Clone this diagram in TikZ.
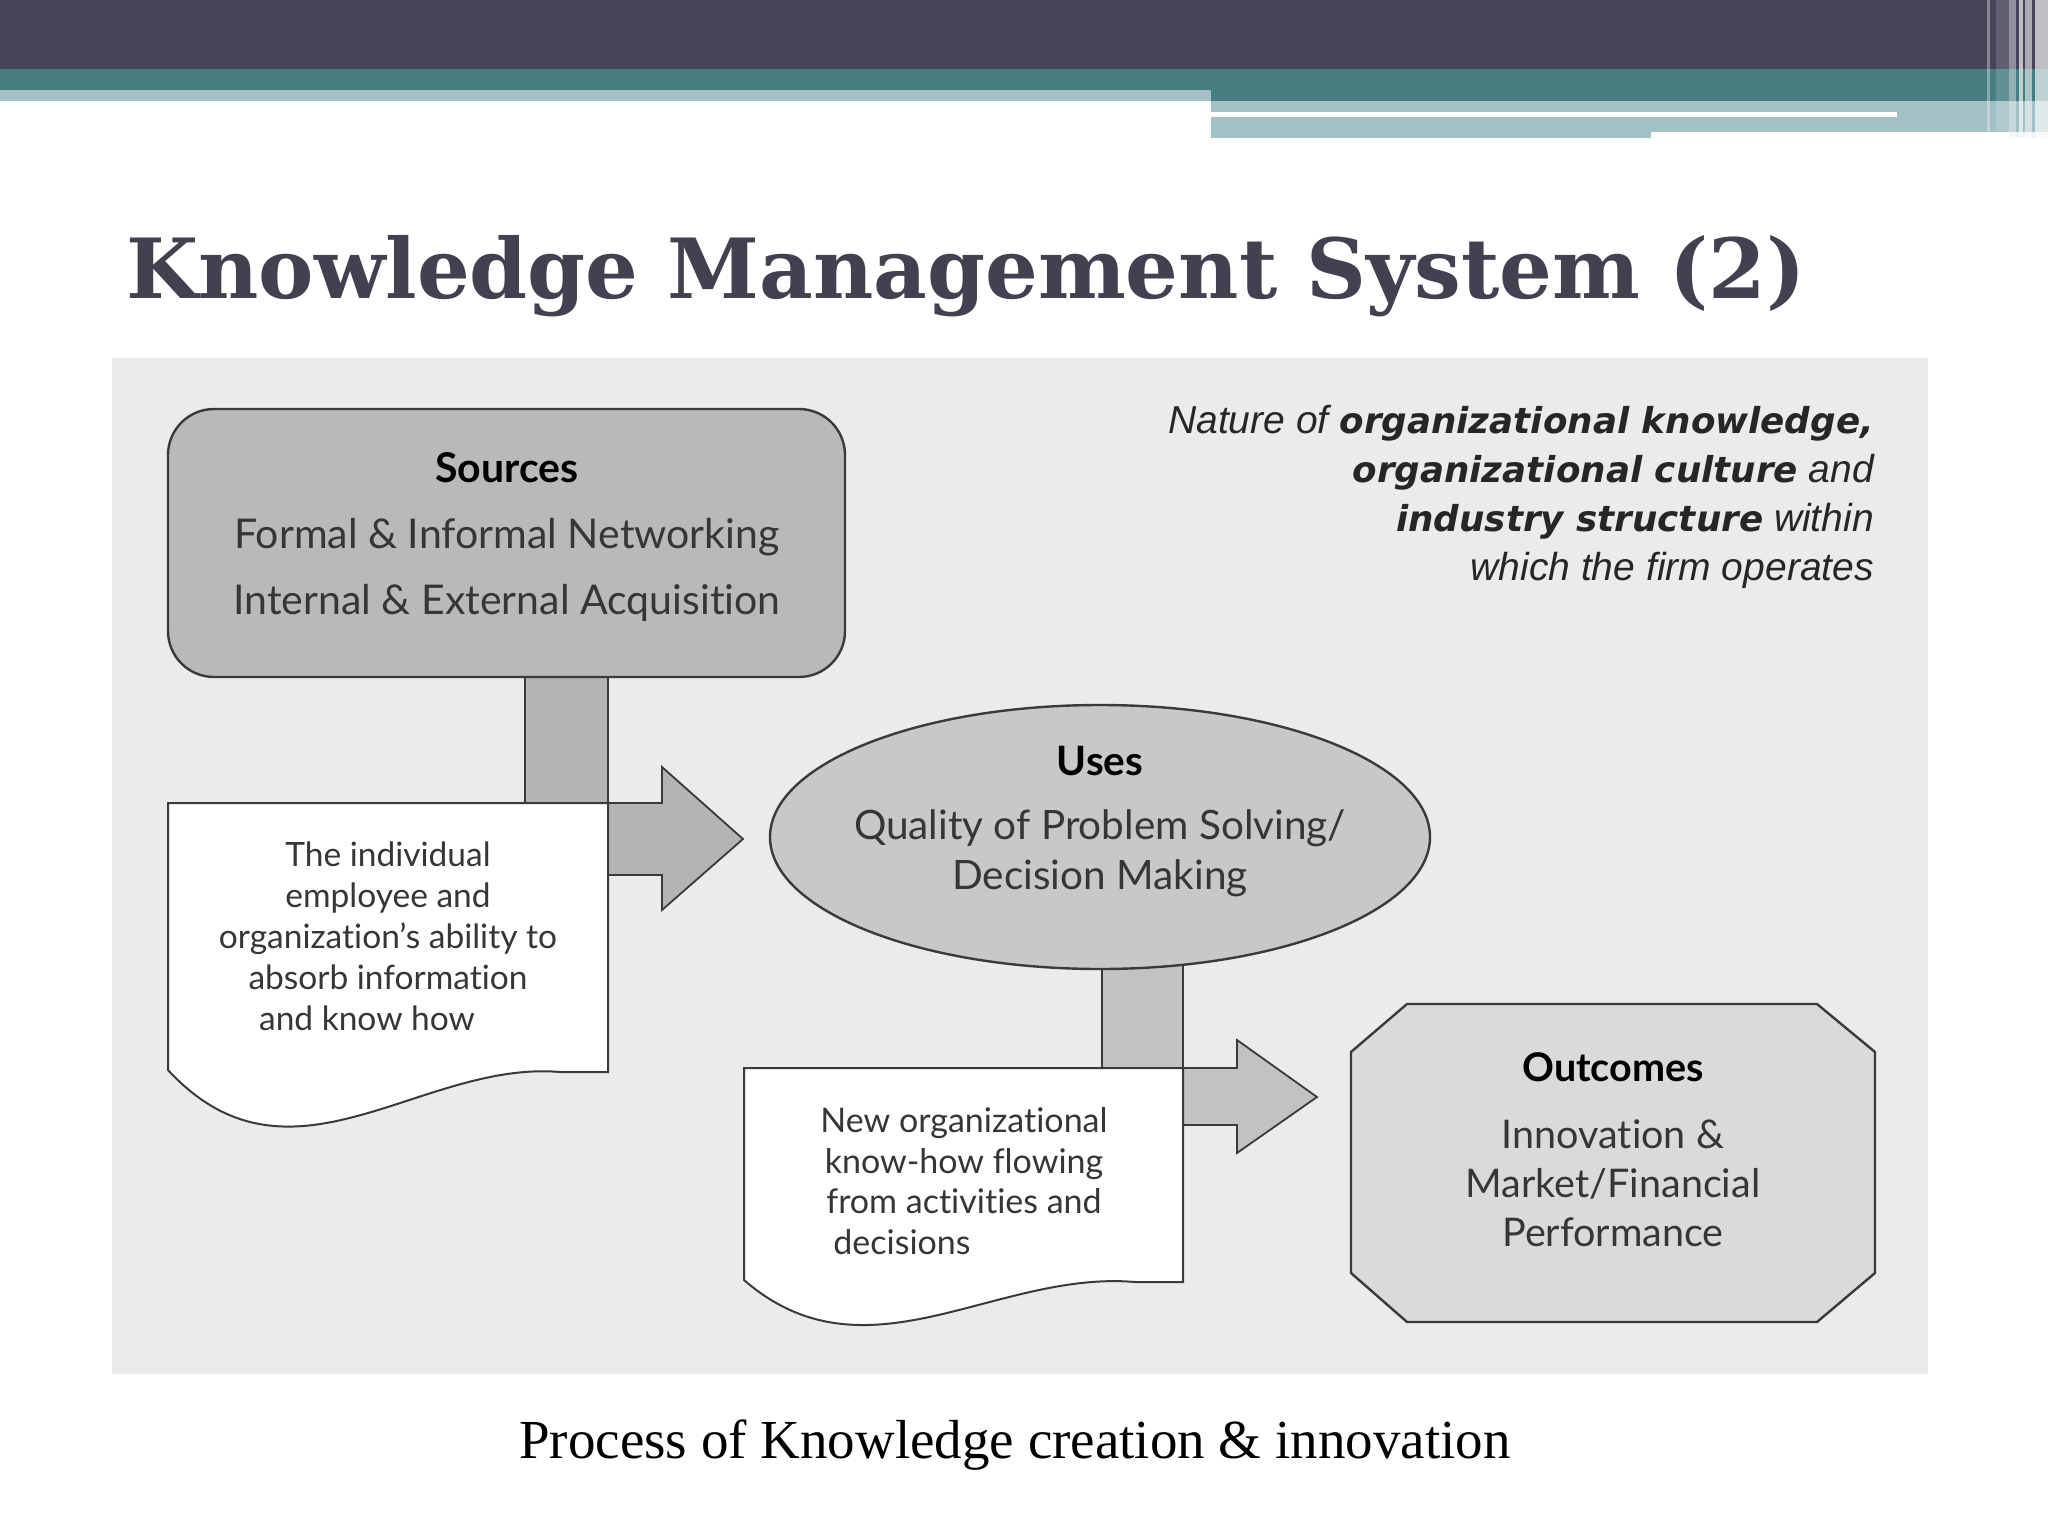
\documentclass[tikz,border=0pt]{standalone}
\usepackage{fontspec}
\setmainfont{Liberation Serif}
\newfontfamily\gill[Ligatures=NoCommon]{Lato}
\newfontfamily\titlefont{DejaVu Serif}
\newfontfamily\natreg{Liberation Sans}
\newfontfamily\natbold{DejaVu Sans}
\usetikzlibrary{shapes.geometric}
\definecolor{bardark}{HTML}{464559}
\definecolor{barteal}{HTML}{467E82}
\definecolor{barlight}{HTML}{A3C0C4}
\definecolor{titlecol}{HTML}{41414F}
\definecolor{panel}{HTML}{EBEBED}
\definecolor{srcfill}{HTML}{B9B9BB}
\definecolor{usefill}{HTML}{C8C8CA}
\definecolor{outfill}{HTML}{DADADC}
\definecolor{arrfillA}{HTML}{B4B4B6}
\definecolor{arrfillB}{HTML}{C2C2C4}
\definecolor{edge}{HTML}{3A3A3A}
\definecolor{bodytext}{HTML}{363636}
\newcommand{\kmdoc}[5]{% x0 y0 x1 y1 dip
  \filldraw[docbox] (#1,#2) -- (#3,#2) -- (#3,#4) -- ({#3-48},#4)
    .. controls ({#3-188},{#4-12}) and ({#1+122},{#4+#5}) .. (#1,{#4-2}) -- cycle;}
\begin{document}
\begin{tikzpicture}[x=1pt,y=-1pt,
  shapeedge/.style={draw=edge, line width=2.4pt},
  docbox/.style={fill=white, draw=edge, line width=2pt},
  blockarrow/.style={draw=edge, line width=1.8pt, line join=miter},
  txt/.style={inner sep=0pt, align=center, text=bodytext},
  ]
\useasboundingbox (0,0) rectangle (2048,1536);
\fill[white] (0,0) rectangle (2048,1536);
% header bars
\fill[bardark] (0,0) rectangle (2048,69);
\fill[barteal] (0,69) rectangle (1211,90);
\fill[barlight] (0,90) rectangle (1211,101);
\fill[barteal] (1211,69) rectangle (2048,101);
\fill[barlight] (1211,101) rectangle (2048,132);
\fill[barlight] (1211,132) rectangle (1651,138);
\fill[white] (1211,112) rectangle (1897,117);
\fill[white!80!barlight] (2009,132) rectangle (2048,138);
\fill[white, opacity=.35] (1987,0) rectangle (1990,132);
\fill[white, opacity=.15] (1996,0) rectangle (2009,132);
\fill[white, opacity=.40] (2009,0) rectangle (2016,138);
\fill[white, opacity=.65] (2019,0) rectangle (2023,138);
\fill[white, opacity=.55] (2025,0) rectangle (2032,138);
\fill[white, opacity=.65] (2035,0) rectangle (2048,138);
% title
\node[anchor=base west, inner sep=0pt, text=titlecol,
  font=\titlefont\bfseries\fontsize{83}{100}\selectfont] (title) at (126,298)
  {Knowledge Management System (2)};
% panel
\fill[panel] (112,358) rectangle (1928,1374);
% block arrows (behind the boxes)
\coordinate (a1s) at (525,677);
\coordinate (a1t) at (743,839);
\filldraw[blockarrow, fill=arrfillA] (a1s) -- (608,677) -- (608,803) -- (662,803)
  -- (662,767) -- (a1t) -- (662,910) -- (662,875) -- (525,875) -- cycle;
\coordinate (a2s) at (1102,940);
\coordinate (a2t) at (1317,1097);
\filldraw[blockarrow, fill=arrfillB] (a2s) -- (1183,940) -- (1183,1068) -- (1237,1068)
  -- (1237,1040) -- (a2t) -- (1237,1153) -- (1237,1125) -- (1102,1125) -- cycle;
% Sources
\node[shapeedge, fill=srcfill, rectangle, rounded corners=46pt,
  minimum width=677pt, minimum height=268pt, inner sep=0pt] (src) at (506.5,543) {};
% Uses
\node[shapeedge, fill=usefill, ellipse, minimum width=660pt, minimum height=264pt,
  inner sep=0pt] (uses) at (1100,837) {};
% documents
\kmdoc{168}{803}{608}{1072}{130}
\kmdoc{744}{1068}{1183}{1282}{104}
% Outcomes
\filldraw[shapeedge, fill=outfill] (1407,1004) -- (1817,1004) -- (1875,1052) -- (1875,1273)
  -- (1817,1322) -- (1407,1322) -- (1351,1273) -- (1351,1052) -- cycle;
% texts
\node[txt, font=\gill\fontsize{41}{66}\selectfont] (srctext) at (507,537)
  {{\bfseries\color{black}Sources}\\Formal \& Informal Networking\\Internal \& External Acquisition};
\node[txt, font=\gill\fontsize{40.5}{50}\selectfont] (usestext) at (1100,822)
  {{\bfseries\color{black}Uses}\\[14pt]Quality of Problem Solving/\\Decision Making};
\node[txt, font=\gill\fontsize{39.5}{49}\selectfont] (outtext) at (1613,1150)
  {{\bfseries\color{black}Outcomes}\\[18pt]Innovation \&\\Market/Financial\\Performance};
\node[txt, font=\gill\fontsize{33.5}{41}\selectfont] (doc1text) at (388,936)
  {The individual\\employee and\\organization’s ability to\\absorb information\\\hspace*{-42pt}and know how};
\node[txt, font=\gill\fontsize{34}{40.5}\selectfont] (doc2text) at (964,1181)
  {New organizational\\know-how flowing\\from activities and\\\hspace*{-124pt}decisions};
\node[inner sep=0pt, align=right, anchor=east, text=black!85,
  font=\natreg\itshape\fontsize{39}{49}\selectfont] (nature) at (1874,497)
  {Nature of {\natbold\bfseries\itshape\fontsize{35.7}{49}\selectfont organizational knowledge,}\\
   {\natbold\bfseries\itshape\fontsize{35.7}{49}\selectfont organizational culture} and\\
   {\natbold\bfseries\itshape\fontsize{35.7}{49}\selectfont industry structure} within\\
   which the firm operates};
% caption
\node[anchor=base, inner sep=0pt, text=black, font=\fontsize{55}{60}\selectfont] (caption)
  at (1015,1458) {Process of Knowledge creation \& innovation};
\end{tikzpicture}
\end{document}
